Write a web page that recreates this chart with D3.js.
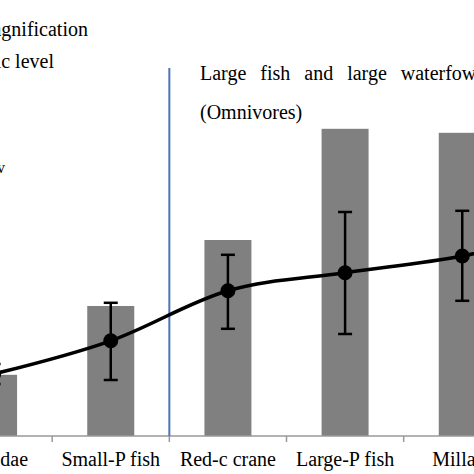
<!DOCTYPE html>
<html><head><meta charset="utf-8">
<script src="https://cdn.jsdelivr.net/npm/d3@7"></script>
<style>body{margin:0;background:#fff}text{font-family:"Liberation Serif","Times New Roman",serif}</style>
</head><body><div id="chart"></div>
<script>
const categories = ["Percidae", "Small-P fish", "Red-c crane", "Large-P fish", "Millard", "Next"];
const barValues = [1.53, 3.25, 4.9, 7.68, 7.58, 7.6];
const levelValues = [1.55, 2.38, 3.63, 4.08, 4.5, 5.2];
const errHigh = [1.8, 3.33, 4.53, 5.6, 5.63, 6.0];
const errLow = [1.3, 1.4, 2.68, 2.55, 3.38, 4.4];

const width = 474, height = 474;
const svg = d3.select("#chart").append("svg").attr("width", width).attr("height", height);

const x = d3.scaleBand().domain(categories).range([-65, 638]);
const y = d3.scaleLinear().domain([0, 10]).range([436, 36]);
const cx = d => x(d) + x.bandwidth() / 2;
const bw = 47;

svg.selectAll("rect.bar").data(categories).join("rect")
  .attr("x", d => cx(d) - bw / 2).attr("width", bw)
  .attr("y", (d, i) => y(barValues[i])).attr("height", (d, i) => y(0) - y(barValues[i]))
  .attr("fill", "#808080");

// axis line and ticks
svg.append("line").attr("x1", 0).attr("x2", width).attr("y1", y(0)).attr("y2", y(0)).attr("stroke", "#999").attr("stroke-width", 1.5);
svg.selectAll("line.tick").data(categories.slice(1)).join("line")
  .attr("x1", d => x(d)).attr("x2", d => x(d)).attr("y1", y(0)).attr("y2", y(0) + 6)
  .attr("stroke", "#999").attr("stroke-width", 1.5);

svg.selectAll("text.cat").data(categories).join("text")
  .attr("x", d => cx(d)).attr("y", 466).attr("text-anchor", "middle")
  .attr("font-size", 20).text(d => d);

// separator
svg.append("line").attr("x1", x("Red-c crane")).attr("x2", x("Red-c crane"))
  .attr("y1", 68).attr("y2", y(0)).attr("stroke", "#4a76b8").attr("stroke-width", 2);

// error bars
const eb = svg.append("g").attr("stroke", "#000").attr("stroke-width", 2.5);
categories.forEach((c, i) => {
  eb.append("line").attr("x1", cx(c)).attr("x2", cx(c)).attr("y1", y(errHigh[i])).attr("y2", y(errLow[i]));
  [errHigh[i], errLow[i]].forEach(v => eb.append("line").attr("x1", cx(c) - 7).attr("x2", cx(c) + 7).attr("y1", y(v)).attr("y2", y(v)));
});

const line = d3.line().x((d, i) => cx(categories[i])).y(d => y(d)).curve(d3.curveMonotoneX);
svg.append("path").attr("d", line(levelValues)).attr("fill", "none").attr("stroke", "#000").attr("stroke-width", 3.5);
svg.selectAll("circle").data(levelValues).join("circle")
  .attr("cx", (d, i) => cx(categories[i])).attr("cy", d => y(d)).attr("r", 7.5).attr("fill", "#000");

svg.append("text").attr("x", 88).attr("y", 36).attr("text-anchor", "end").attr("font-size", 20).text("Biomagnification");
svg.append("text").attr("x", 54).attr("y", 68).attr("text-anchor", "end").attr("font-size", 20).text("Trophic level");
svg.append("text").attr("x", 5).attr("y", 173).attr("text-anchor", "end").attr("font-size", 16).text("v");
svg.append("text").attr("x", 200).attr("y", 80).attr("font-size", 20).attr("word-spacing", 9).text("Large fish and large waterfowl");
svg.append("text").attr("x", 200).attr("y", 119).attr("font-size", 20).text("(Omnivores)");
</script></body></html>
